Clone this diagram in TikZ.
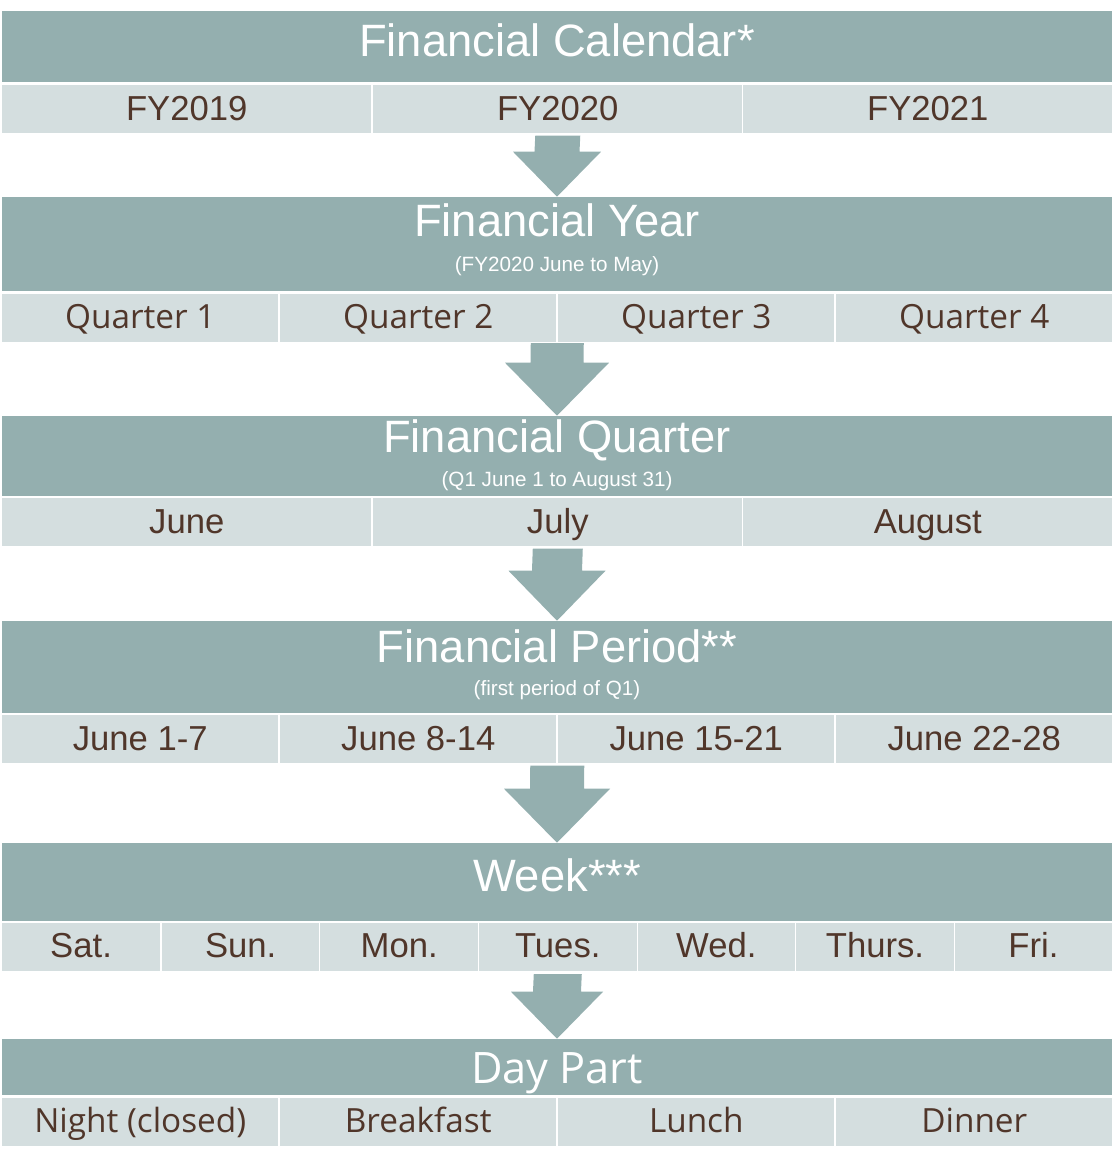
\documentclass[tikz,border=0pt]{standalone}
\usepackage{fontspec}
\setmainfont{Liberation Sans}
\newfontfamily\opensans{Open Sans}
\usetikzlibrary{fit,calc}
\definecolor{headfill}{RGB}{148,175,175}
\definecolor{cellfill}{RGB}{212,222,223}
\definecolor{celltext}{RGB}{80,54,42}
\begin{document}
\begin{tikzpicture}[x=0.75pt, y=-0.75pt,
	header/.style={fill=headfill, inner sep=0pt},
	title/.style={anchor=base, inner sep=0pt, text=white, font=\fontsize{34}{40}\selectfont},
	note/.style={anchor=base, inner sep=0pt, text=white, font=\fontsize{15.5}{18}\selectfont},
	cell/.style={anchor=north west, fill=cellfill, inner sep=0pt, minimum height=36pt, text=celltext, text height=16.5pt, text depth=0pt, font=\fontsize{26}{30}\selectfont},
	third/.style={cell, minimum width=276.75pt},
	quarter/.style={cell, minimum width=207pt},
	day/.style={cell, minimum width=118.2pt},
	opensans/.style={font=\opensans\fontsize{25}{30}\selectfont},
	blockarrow/.style={fill=headfill}]
	\useasboundingbox (0, 0) rectangle (1114, 1166);

	% financial calendar
	\node[header, fit={(2, 11) (1112, 82)}] (calendar) {};
	\node[title] (calendar-title) at (557, 57) {Financial Calendar*};
	\node[third] (fy2019) at (2, 85) {FY2019};
	\node[third] (fy2020) at (373, 85) {FY2020};
	\node[third] (fy2021) at (743, 85) {FY2021};

	% financial year
	\node[header, fit={(2, 197) (1112, 291)}] (year) {};
	\node[title] (year-title) at (557, 237) {Financial Year};
	\node[note] (year-note) at (557, 271) {(FY2020 June to May)};
	\node[quarter, opensans] (q1) at (2, 293.5) {Quarter 1};
	\node[quarter, opensans] (q2) at (280, 293.5) {Quarter 2};
	\node[quarter, opensans] (q3) at (558, 293.5) {Quarter 3};
	\node[quarter, opensans] (q4) at (836, 293.5) {Quarter 4};

	% financial quarter
	\node[header, fit={(2, 416) (1112, 496)}] (fquarter) {};
	\node[title] (fquarter-title) at (557, 452) {Financial Quarter};
	\node[note] (fquarter-note) at (557, 486) {(Q1 June 1 to August 31)};
	\node[third] (june) at (2, 498) {June};
	\node[third] (july) at (373, 498) {July};
	\node[third] (august) at (743, 498) {August};

	% financial period
	\node[header, fit={(2, 621) (1112, 713)}] (period) {};
	\node[title] (period-title) at (557, 662) {Financial Period**};
	\node[note] (period-note) at (557, 695) {(first period of Q1)};
	\node[quarter] (p1) at (2, 715) {June 1-7};
	\node[quarter] (p2) at (280, 715) {June 8-14};
	\node[quarter] (p3) at (558, 715) {June 15-21};
	\node[quarter] (p4) at (836, 715) {June 22-28};

	% week
	\node[header, fit={(2, 843) (1112, 921)}] (week) {};
	\node[title] (week-title) at (557, 891) {Week***};
	\node[day] (sat) at (2, 922.5) {Sat.};
	\node[day] (sun) at (161.6, 922.5) {Sun.};
	\node[day] (mon) at (320.1, 922.5) {Mon.};
	\node[day] (tues) at (478.7, 922.5) {Tues.};
	\node[day] (wed) at (637.3, 922.5) {Wed.};
	\node[day] (thurs) at (795.9, 922.5) {Thurs.};
	\node[day] (fri) at (954.4, 922.5) {Fri.};

	% day part
	\node[header, fit={(2, 1039) (1112, 1095)}] (daypart) {};
	\node[title, font=\opensans\fontsize{32.5}{38}\selectfont] (daypart-title) at (557, 1083) {Day Part};
	\node[quarter, opensans] (night) at (2, 1097.5) {Night (closed)};
	\node[quarter, opensans] (breakfast) at (280, 1097.5) {Breakfast};
	\node[quarter, opensans] (lunch) at (558, 1097.5) {Lunch};
	\node[quarter, opensans] (dinner) at (836, 1097.5) {Dinner};

	% arrows between the levels
	\fill[blockarrow] ($(fy2020.south)+(-22.5, 2)$) -- ($(fy2020.south)+(22.5, 2)$) -- ($(year.north)+(22.5, -45)$) -- ($(year.north)+(44, -45)$) -- (year.north) -- ($(year.north)+(-44, -45)$) -- ($(year.north)+(-22.5, -45)$) -- cycle;
	\coordinate (q-split) at ($(q2.south east)!0.5!(q3.south west)$);
	\fill[blockarrow] ($(q-split)+(-26.5, 1)$) -- ($(q-split)+(26.5, 1)$) -- ($(fquarter.north)+(26.5, -53)$) -- ($(fquarter.north)+(52, -53)$) -- (fquarter.north) -- ($(fquarter.north)+(-52, -53)$) -- ($(fquarter.north)+(-26.5, -53)$) -- cycle;
	\fill[blockarrow] ($(july.south)+(-25, 2)$) -- ($(july.south)+(25, 2)$) -- ($(period.north)+(25, -50)$) -- ($(period.north)+(48.5, -50)$) -- (period.north) -- ($(period.north)+(-48.5, -50)$) -- ($(period.north)+(-25, -50)$) -- cycle;
	\coordinate (p-split) at ($(p2.south east)!0.5!(p3.south west)$);
	\fill[blockarrow] ($(p-split)+(-27, 2)$) -- ($(p-split)+(27, 2)$) -- ($(week.north)+(27, -54)$) -- ($(week.north)+(53, -54)$) -- (week.north) -- ($(week.north)+(-53, -54)$) -- ($(week.north)+(-27, -54)$) -- cycle;
	\fill[blockarrow] ($(tues.south)+(-24, 3)$) -- ($(tues.south)+(24, 3)$) -- ($(daypart.north)+(24, -47)$) -- ($(daypart.north)+(46, -47)$) -- (daypart.north) -- ($(daypart.north)+(-46, -47)$) -- ($(daypart.north)+(-24, -47)$) -- cycle;
\end{tikzpicture}
\end{document}
